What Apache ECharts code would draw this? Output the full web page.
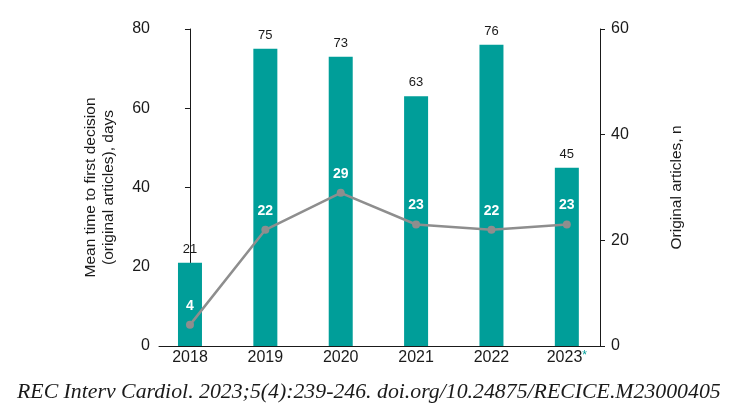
<!DOCTYPE html>
<html>
<head>
<meta charset="utf-8">
<script src="https://cdn.jsdelivr.net/npm/echarts@6/dist/echarts.min.js"></script>
<style>
    html, body { margin: 0; padding: 0; background: #fff; }
    #chart { width: 736px; height: 415px; }
</style>
</head>
<body>
<div id="chart"></div>
<script>
// Data
// ------------------------------

var years = ['2018', '2019', '2020', '2021', '2022', '2023'];
var meanDays = [21, 75, 73, 63, 76, 45];
var articles = [4, 22, 29, 23, 22, 23];
var leftTicks = [0, 20, 40, 60, 80];
var rightTicks = [0, 20, 40, 60];

var teal = '#009e99';
var grey = '#8e8e8e';
var ink = '#1a1a1a';
var font = '"Liberation Sans", Arial, sans-serif';

// Build [x, y] pairs on the value x axis
var barData = meanDays.map(function(v, i) { return [i, v]; });
var lineData = articles.map(function(v, i) { return [i, v]; });

var chart = echarts.init(document.getElementById('chart'));

chart.setOption({
    animation: false,
    textStyle: { fontFamily: font },

    grid: { left: 159, right: 136, top: 29, bottom: 69 },

    title: {
        text: 'REC Interv Cardiol. 2023;5(4):239-246. doi.org/10.24875/RECICE.M23000405',
        left: 12,
        top: 376,
        textStyle: {
            fontFamily: '"Liberation Serif", "DejaVu Serif", serif',
            fontStyle: 'italic',
            fontWeight: 'normal',
            fontSize: 21.8,
            color: ink
        }
    },

    // Horizontal axis
    xAxis: {
        type: 'value',
        min: -0.411,
        max: 5.44,
        splitLine: { show: false },
        axisTick: { show: false },
        axisLine: { lineStyle: { color: ink, width: 1 } },
        axisLabel: {
            customValues: [0, 1, 2, 3, 4, 5],
            margin: 4,
            fontSize: 16,
            color: ink,
            formatter: function(v) {
                var i = Math.round(v);
                return i === years.length - 1 ? '{y|' + years[i] + '}{s|*}' : years[i];
            },
            rich: {
                y: { fontSize: 16, color: ink, fontFamily: font },
                s: { fontSize: 12, color: teal, verticalAlign: 'top', lineHeight: 10, padding: [0, 0, 0, 0] }
            }
        }
    },

    // Vertical axes
    yAxis: [
        {
            type: 'value',
            min: leftTicks[0],
            max: leftTicks[leftTicks.length - 1],
            interval: 20,
            name: 'Mean time to first decision\n(original articles), days',
            nameLocation: 'middle',
            nameRotate: 90,
            nameGap: 41,
            nameTextStyle: { fontSize: 15.5, color: ink, lineHeight: 18 },
            splitLine: { show: false },
            axisLine: { show: true, lineStyle: { color: ink, width: 1 } },
            axisTick: { show: true, length: 5, lineStyle: { color: ink } },
            axisLabel: { fontSize: 16, color: ink, margin: 9 }
        },
        {
            type: 'value',
            min: rightTicks[0],
            max: rightTicks[rightTicks.length - 1],
            interval: 20,
            name: 'Original articles, n',
            nameLocation: 'middle',
            nameRotate: 90,
            nameGap: 69,
            nameTextStyle: { fontSize: 15.5, color: ink },
            splitLine: { show: false },
            axisLine: { show: true, lineStyle: { color: ink, width: 1 } },
            axisTick: { show: true, length: 5, lineStyle: { color: ink } },
            axisLabel: { fontSize: 16, color: ink, margin: 11 }
        }
    ],

    series: [
        {
            name: 'Mean time',
            type: 'bar',
            yAxisIndex: 0,
            barWidth: 24,
            data: barData,
            itemStyle: { color: teal },
            label: {
                show: true,
                position: 'top',
                distance: 7,
                fontSize: 13,
                color: ink,
                formatter: function(p) { return p.value[1]; }
            }
        },
        {
            name: 'Original articles',
            type: 'line',
            yAxisIndex: 1,
            data: lineData,
            symbol: 'circle',
            symbolSize: 8,
            itemStyle: { color: grey },
            lineStyle: { color: grey, width: 2.5 },
            label: {
                show: true,
                position: 'top',
                distance: 8,
                fontSize: 14,
                fontWeight: 'bold',
                color: '#fff',
                formatter: function(p) { return p.value[1]; }
            },
            z: 3
        }
    ]
});
</script>
</body>
</html>
